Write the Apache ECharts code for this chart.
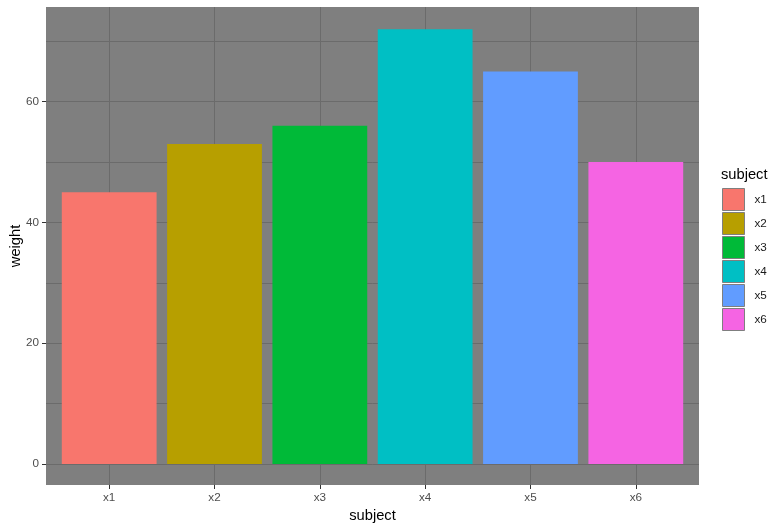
<!DOCTYPE html>
<html>
<head>
<meta charset="utf-8">
<script src="https://cdn.jsdelivr.net/npm/echarts@6/dist/echarts.min.js"></script>
<style>html,body{margin:0;padding:0;background:#fff}#c{width:783px;height:531px}</style>
</head>
<body>
<div id="c"></div>
<script>
const categories = ['x1', 'x2', 'x3', 'x4', 'x5', 'x6'];
const weights = [45, 53, 56, 72, 65, 50];
const colors = ['#F8766D', '#B79F00', '#00BA38', '#00BFC4', '#619CFF', '#F564E3'];
const yTicks = [0, 20, 40, 60];

const FONT = '"Liberation Sans", Arial, sans-serif';
const GRID_C = '#6B6B6B';
const PANEL = '#7F7F7F';

// panel geometry
const pL = 46, pR = 699, pT = 7, pB = 485, W = 783, H = 531;
const step = (pR - pL) / (categories.length + 0.2);
const zeroY = 464, pxPerUnit = (zeroY - 7.4) / 75.6;
const yMaxAtTop = zeroY / pxPerUnit; // value at canvas top edge

const chart = echarts.init(document.getElementById('c'), null, {renderer: 'canvas'});

const series = categories.map((c, i) => ({
  name: c,
  type: 'bar',
  xAxisIndex: 2,
  yAxisIndex: 2,
  stack: 'all',
  barWidth: '90%',
  itemStyle: {color: colors[i]},
  emphasis: {disabled: true},
  data: categories.map((cc, j) => j === i ? weights[i] : '-')
}));

chart.setOption({
  animation: false,
  textStyle: {fontFamily: FONT},
  title: {
    text: 'subject', left: 721, top: 167, padding: 0,
    textStyle: {fontFamily: FONT, fontSize: 14.7, fontWeight: 'normal', color: '#000'}
  },
  legend: {
    data: categories,
    orient: 'vertical',
    left: 722, top: 188,
    itemWidth: 22, itemHeight: 22, itemGap: 1,
    icon: 'rect',
    selectedMode: false,
    padding: 0,
    itemStyle: {borderColor: PANEL, borderWidth: 1},
    textStyle: {fontFamily: FONT, fontSize: 11.7, color: '#1A1A1A', padding: [0, 0, 0, 5]}
  },
  grid: [
    {left: pL, right: W - pR, top: pT, bottom: H - pB, show: true, backgroundColor: PANEL, borderWidth: 0, z: -5},
    {left: pL, right: W - pR, top: 0, bottom: H - zeroY},
    {left: pL + 0.1 * step, right: W - (pR - 0.1 * step), top: 0, bottom: H - zeroY},
    {left: pL + 0.6 * step, right: W - (pR - 0.6 * step), top: pT, bottom: H - pB}
  ],
  xAxis: [
    {gridIndex: 0, type: 'value', min: 0, max: 1,
     name: 'subject', nameLocation: 'middle', nameGap: 23,
     nameTextStyle: {fontFamily: FONT, fontSize: 14.7, color: '#000'},
     axisLine: {show: false}, axisTick: {show: false}, axisLabel: {show: false}, splitLine: {show: false}},
    {gridIndex: 1, type: 'value', min: 0, max: 1, show: false},
    {gridIndex: 2, type: 'category', data: categories, show: false},
    {gridIndex: 3, type: 'category', data: categories, boundaryGap: false,
     axisLine: {show: false},
     axisTick: {show: true, length: 4, lineStyle: {color: '#333333'}},
     axisLabel: {color: '#4D4D4D', fontFamily: FONT, fontSize: 11.7, margin: 7, interval: 0},
     splitLine: {show: true, interval: 0, lineStyle: {color: GRID_C, width: 1}}}
  ],
  yAxis: [
    {gridIndex: 0, type: 'value', min: 0, max: 1,
     name: 'weight', nameLocation: 'middle', nameGap: 23,
     nameTextStyle: {fontFamily: FONT, fontSize: 14.7, color: '#000'},
     axisLine: {show: false}, axisTick: {show: false}, axisLabel: {show: false}, splitLine: {show: false}},
    {gridIndex: 1, type: 'value', min: 0, max: yMaxAtTop, interval: 20,
     axisLine: {show: false},
     axisTick: {show: true, length: 4, lineStyle: {color: '#333333'}},
     axisLabel: {color: '#4D4D4D', fontFamily: FONT, fontSize: 11.7, margin: 7,
       showMaxLabel: false,
       formatter: v => yTicks.indexOf(v) >= 0 ? String(v) : ''},
     splitLine: {show: true, showMaxLine: false, lineStyle: {color: GRID_C, width: 1}},
     minorTick: {show: false, splitNumber: 2},
     minorSplitLine: {show: true, lineStyle: {color: GRID_C, width: 1}}},
    {gridIndex: 2, type: 'value', min: 0, max: yMaxAtTop, show: false},
    {gridIndex: 3, type: 'value', min: 0, max: 1, show: false}
  ],
  series: series
});
</script>
</body>
</html>
